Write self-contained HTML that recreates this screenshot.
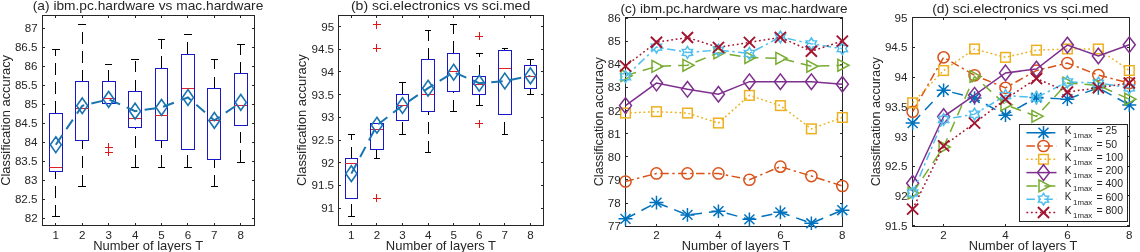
<!DOCTYPE html><html><head><meta charset="utf-8"><style>html,body{margin:0;padding:0;background:#fff;width:1140px;height:252px;overflow:hidden}svg{display:block;will-change:transform}.ce{shape-rendering:crispEdges}text{font-family:"Liberation Sans",sans-serif;fill:#262626}</style></head><body>
<svg width="1140" height="252" viewBox="0 0 1140 252">
<path class="ce" d="M42.5 15.5H254.5V225.5H42.5ZM55.8 225.5V222.9M55.8 15.5V18.1M82.23 225.5V222.9M82.23 15.5V18.1M108.66 225.5V222.9M108.66 15.5V18.1M135.09 225.5V222.9M135.09 15.5V18.1M161.51 225.5V222.9M161.51 15.5V18.1M187.94 225.5V222.9M187.94 15.5V18.1M214.37 225.5V222.9M214.37 15.5V18.1M240.8 225.5V222.9M240.8 15.5V18.1M42.5 218.25H45.1M254.5 218.25H251.9M42.5 199.25H45.1M254.5 199.25H251.9M42.5 180.25H45.1M254.5 180.25H251.9M42.5 161.25H45.1M254.5 161.25H251.9M42.5 142.25H45.1M254.5 142.25H251.9M42.5 123.25H45.1M254.5 123.25H251.9M42.5 104.25H45.1M254.5 104.25H251.9M42.5 85.25H45.1M254.5 85.25H251.9M42.5 66.25H45.1M254.5 66.25H251.9M42.5 47.25H45.1M254.5 47.25H251.9M42.5 28.25H45.1M254.5 28.25H251.9" fill="none" stroke="#262626" stroke-width="1"/>
<g class="ce" fill="none" stroke-width="1"><path d="M55.8 113.06V49.82" stroke="#000" stroke-dasharray="11.8 7.1"/><path d="M55.8 216.43V171.36" stroke="#000" stroke-dasharray="11.8 7.1"/><path d="M52 49.82H59.6M52 216.43H59.6" stroke="#000"/><path d="M49.4 113.06H62.2V171.36H49.4Z" stroke="#1818c8"/><path d="M49.4 167.17H62.2" stroke="#e0202a"/><path d="M82.23 81.44V24.29" stroke="#000" stroke-dasharray="11.8 7.1"/><path d="M82.23 186.83V140.11" stroke="#000" stroke-dasharray="11.8 7.1"/><path d="M78.43 24.29H86.03M78.43 186.83H86.03" stroke="#000"/><path d="M75.83 81.44H88.63V140.11H75.83Z" stroke="#1818c8"/><path d="M75.83 108.49H88.63" stroke="#e0202a"/><path d="M108.66 81.44V64.3" stroke="#000" stroke-dasharray="11.8 7.1"/><path d="M104.86 64.3H112.46M104.86 103.16H112.46" stroke="#000"/><path d="M102.26 81.44H115.06V103.16H102.26Z" stroke="#1818c8"/><path d="M102.26 98.2H115.06" stroke="#e0202a"/><path d="M104.66 147.35H112.66M108.66 143.35V151.35" stroke="#e01818"/><path d="M104.66 152.31H112.66M108.66 148.31V156.31" stroke="#e01818"/><path d="M135.09 91.35V59.34" stroke="#000" stroke-dasharray="11.8 7.1"/><path d="M135.09 167.17V127.16" stroke="#000" stroke-dasharray="11.8 7.1"/><path d="M131.29 59.34H138.89M131.29 167.17H138.89" stroke="#000"/><path d="M128.69 91.35H141.49V127.16H128.69Z" stroke="#1818c8"/><path d="M128.69 118.4H141.49" stroke="#e0202a"/><path d="M161.51 68.1V39.15" stroke="#000" stroke-dasharray="11.8 7.1"/><path d="M161.51 167.17V140.11" stroke="#000" stroke-dasharray="11.8 7.1"/><path d="M157.71 39.15H165.31M157.71 167.17H165.31" stroke="#000"/><path d="M155.11 68.1H167.91V140.11H155.11Z" stroke="#1818c8"/><path d="M155.11 115.97H167.91" stroke="#e0202a"/><path d="M187.94 54.01V34.2" stroke="#000" stroke-dasharray="11.8 7.1"/><path d="M187.94 167.17V149.26" stroke="#000" stroke-dasharray="11.8 7.1"/><path d="M184.14 34.2H191.74M184.14 167.17H191.74" stroke="#000"/><path d="M181.54 54.01H194.34V149.26H181.54Z" stroke="#1818c8"/><path d="M181.54 88.92H194.34" stroke="#e0202a"/><path d="M214.37 88.3V59.34" stroke="#000" stroke-dasharray="11.8 7.1"/><path d="M214.37 186.83V159.16" stroke="#000" stroke-dasharray="11.8 7.1"/><path d="M210.57 59.34H218.17M210.57 186.83H218.17" stroke="#000"/><path d="M207.97 88.3H220.77V159.16H207.97Z" stroke="#1818c8"/><path d="M207.97 120.92H220.77" stroke="#e0202a"/><path d="M240.8 73.44V44.48" stroke="#000" stroke-dasharray="11.8 7.1"/><path d="M240.8 162.21V125.25" stroke="#000" stroke-dasharray="11.8 7.1"/><path d="M237 44.48H244.6M237 162.21H244.6" stroke="#000"/><path d="M234.4 73.44H247.2V125.25H234.4Z" stroke="#1818c8"/><path d="M234.4 105.06H247.2" stroke="#e0202a"/></g>
<polyline points="55.8,144.69 82.23,105.82 108.66,99.35 135.09,111.16 161.51,107.35 187.94,97.44 214.37,120.4 240.8,102.4" fill="none" stroke="#1a74b0" stroke-width="2" stroke-dasharray="11.5 7.3"/>
<path d="M55.8 136.79L61.3 144.69L55.8 152.59L50.3 144.69ZM82.23 97.92L87.73 105.82L82.23 113.72L76.73 105.82ZM108.66 91.45L114.16 99.35L108.66 107.25L103.16 99.35ZM135.09 103.26L140.59 111.16L135.09 119.06L129.59 111.16ZM161.51 99.45L167.01 107.35L161.51 115.25L156.01 107.35ZM187.94 89.54L193.44 97.44L187.94 105.34L182.44 97.44ZM214.37 112.5L219.87 120.4L214.37 128.3L208.87 120.4ZM240.8 94.5L246.3 102.4L240.8 110.3L235.3 102.4Z" fill="none" stroke="#1a74b0" stroke-width="1.6"/>
<path class="ce" d="M338.5 15.5H543.5V225.5H338.5ZM351.35 225.5V222.9M351.35 15.5V18.1M376.93 225.5V222.9M376.93 15.5V18.1M402.51 225.5V222.9M402.51 15.5V18.1M428.09 225.5V222.9M428.09 15.5V18.1M453.66 225.5V222.9M453.66 15.5V18.1M479.24 225.5V222.9M479.24 15.5V18.1M504.82 225.5V222.9M504.82 15.5V18.1M530.4 225.5V222.9M530.4 15.5V18.1M338.5 208.1H341.1M543.5 208.1H540.9M338.5 185.4H341.1M543.5 185.4H540.9M338.5 162.7H341.1M543.5 162.7H540.9M338.5 140H341.1M543.5 140H540.9M338.5 117.3H341.1M543.5 117.3H540.9M338.5 94.6H341.1M543.5 94.6H540.9M338.5 71.9H341.1M543.5 71.9H540.9M338.5 49.2H341.1M543.5 49.2H540.9M338.5 26.5H341.1M543.5 26.5H540.9" fill="none" stroke="#262626" stroke-width="1"/>
<g class="ce" fill="none" stroke-width="1"><path d="M351.35 158.83V134.23" stroke="#000" stroke-dasharray="11.8 7.1"/><path d="M351.35 216.24V198.47" stroke="#000" stroke-dasharray="11.8 7.1"/><path d="M348.05 134.23H354.65M348.05 216.24H354.65" stroke="#000"/><path d="M345.05 158.83H357.65V198.47H345.05Z" stroke="#1818c8"/><path d="M345.05 163.68H357.65" stroke="#e0202a"/><path d="M376.93 158.37V149.26" stroke="#000" stroke-dasharray="11.8 7.1"/><path d="M373.63 123.29H380.23M373.63 158.37H380.23" stroke="#000"/><path d="M370.63 123.29H383.23V149.26H370.63Z" stroke="#1818c8"/><path d="M370.63 129.26H383.23" stroke="#e0202a"/><path d="M372.93 24.88H380.93M376.93 20.88V28.88" stroke="#e01818"/><path d="M372.93 48.12H380.93M376.93 44.12V52.12" stroke="#e01818"/><path d="M372.93 198.47H380.93M376.93 194.47V202.47" stroke="#e01818"/><path d="M402.51 94.59V82.29" stroke="#000" stroke-dasharray="11.8 7.1"/><path d="M402.51 134.23V120.56" stroke="#000" stroke-dasharray="11.8 7.1"/><path d="M399.21 82.29H405.81M399.21 134.23H405.81" stroke="#000"/><path d="M396.21 94.59H408.81V120.56H396.21Z" stroke="#1818c8"/><path d="M396.21 105.52H408.81" stroke="#e0202a"/><path d="M428.09 59.96V30.35" stroke="#000" stroke-dasharray="11.8 7.1"/><path d="M428.09 152.45V111.45" stroke="#000" stroke-dasharray="11.8 7.1"/><path d="M424.79 30.35H431.39M424.79 152.45H431.39" stroke="#000"/><path d="M421.79 59.96H434.39V111.45H421.79Z" stroke="#1818c8"/><path d="M421.79 94.59H434.39" stroke="#e0202a"/><path d="M453.66 53.13V24.43" stroke="#000" stroke-dasharray="11.8 7.1"/><path d="M453.66 111.45V91.4" stroke="#000" stroke-dasharray="11.8 7.1"/><path d="M450.36 24.43H456.96M450.36 111.45H456.96" stroke="#000"/><path d="M447.36 53.13H459.96V91.4H447.36Z" stroke="#1818c8"/><path d="M447.36 71.9H459.96" stroke="#e0202a"/><path d="M479.24 76.37V53.13" stroke="#000" stroke-dasharray="11.8 7.1"/><path d="M479.24 105.52V94.59" stroke="#000" stroke-dasharray="11.8 7.1"/><path d="M475.94 53.13H482.54M475.94 105.52H482.54" stroke="#000"/><path d="M472.94 76.37H485.54V94.59H472.94Z" stroke="#1818c8"/><path d="M472.94 84.02H485.54" stroke="#e0202a"/><path d="M475.24 36.27H483.24M479.24 32.27V40.27" stroke="#e01818"/><path d="M475.24 123.84H483.24M479.24 119.84V127.84" stroke="#e01818"/><path d="M504.82 50.94V48.12" stroke="#000" stroke-dasharray="11.8 7.1"/><path d="M504.82 134.23V114.18" stroke="#000" stroke-dasharray="11.8 7.1"/><path d="M501.52 48.12H508.12M501.52 134.23H508.12" stroke="#000"/><path d="M498.52 50.94H511.12V114.18H498.52Z" stroke="#1818c8"/><path d="M498.52 68.17H511.12" stroke="#e0202a"/><path d="M530.4 65.43V59.96" stroke="#000" stroke-dasharray="11.8 7.1"/><path d="M530.4 94.59V88.21" stroke="#000" stroke-dasharray="11.8 7.1"/><path d="M527.1 59.96H533.7M527.1 94.59H533.7" stroke="#000"/><path d="M524.1 65.43H536.7V88.21H524.1Z" stroke="#1818c8"/><path d="M524.1 76.37H536.7" stroke="#e0202a"/></g>
<polyline points="351.35,173.64 376.93,125.2 402.51,105.52 428.09,88.21 453.66,72.19 479.24,83.2 504.82,81.01 530.4,75.91" fill="none" stroke="#1a74b0" stroke-width="2" stroke-dasharray="11.5 7.3"/>
<path d="M351.35 165.74L356.85 173.64L351.35 181.54L345.85 173.64ZM376.93 117.3L382.43 125.2L376.93 133.1L371.43 125.2ZM402.51 97.62L408.01 105.52L402.51 113.42L397.01 105.52ZM428.09 80.31L433.59 88.21L428.09 96.11L422.59 88.21ZM453.66 64.29L459.16 72.19L453.66 80.09L448.16 72.19ZM479.24 75.3L484.74 83.2L479.24 91.1L473.74 83.2ZM504.82 73.11L510.32 81.01L504.82 88.91L499.32 81.01ZM530.4 68.01L535.9 75.91L530.4 83.81L524.9 75.91Z" fill="none" stroke="#1a74b0" stroke-width="1.6"/>
<path class="ce" d="M625.5 17.5H842.5V226.5H625.5ZM656.48 226.5V223.9M656.48 17.5V20.1M718.44 226.5V223.9M718.44 17.5V20.1M780.39 226.5V223.9M780.39 17.5V20.1M842.35 226.5V223.9M842.35 17.5V20.1M625.5 226.2H628.1M842.5 226.2H839.9M625.5 203.08H628.1M842.5 203.08H839.9M625.5 179.96H628.1M842.5 179.96H839.9M625.5 156.84H628.1M842.5 156.84H839.9M625.5 133.72H628.1M842.5 133.72H839.9M625.5 110.61H628.1M842.5 110.61H839.9M625.5 87.49H628.1M842.5 87.49H839.9M625.5 64.37H628.1M842.5 64.37H839.9M625.5 41.25H628.1M842.5 41.25H839.9M625.5 18.13H628.1M842.5 18.13H839.9" fill="none" stroke="#262626" stroke-width="1"/>
<path class="ce" d="M912.5 17.5H1129.5V226.5H912.5ZM943.6 226.5V223.9M943.6 17.5V20.1M1005.5 226.5V223.9M1005.5 17.5V20.1M1067.4 226.5V223.9M1067.4 17.5V20.1M1129.3 226.5V223.9M1129.3 17.5V20.1M912.5 225.6H915.1M1129.5 225.6H1126.9M912.5 195.9H915.1M1129.5 195.9H1126.9M912.5 166.2H915.1M1129.5 166.2H1126.9M912.5 136.5H915.1M1129.5 136.5H1126.9M912.5 106.8H915.1M1129.5 106.8H1126.9M912.5 77.1H915.1M1129.5 77.1H1126.9M912.5 47.4H915.1M1129.5 47.4H1126.9M912.5 17.7H915.1M1129.5 17.7H1126.9" fill="none" stroke="#262626" stroke-width="1"/>
<polyline points="625.5,218.86 656.48,202.59 687.46,214.91 718.44,211.19 749.41,219.33 780.39,212.35 811.37,223.24 842.35,210.19" fill="none" stroke="#0072BD" stroke-width="1.5" stroke-dasharray="11 7"/>
<path d="M618.5 218.86H632.5M625.5 212.06V225.66M620.5 213.96L630.5 223.76M620.5 223.76L630.5 213.96" stroke="#0072BD" stroke-width="1.5" fill="none"/><path d="M649.48 202.59H663.48M656.48 195.79V209.39M651.48 197.69L661.48 207.49M651.48 207.49L661.48 197.69" stroke="#0072BD" stroke-width="1.5" fill="none"/><path d="M680.46 214.91H694.46M687.46 208.11V221.71M682.46 210.01L692.46 219.81M682.46 219.81L692.46 210.01" stroke="#0072BD" stroke-width="1.5" fill="none"/><path d="M711.44 211.19H725.44M718.44 204.39V217.99M713.44 206.29L723.44 216.09M713.44 216.09L723.44 206.29" stroke="#0072BD" stroke-width="1.5" fill="none"/><path d="M742.41 219.33H756.41M749.41 212.53V226.13M744.41 214.43L754.41 224.23M744.41 224.23L754.41 214.43" stroke="#0072BD" stroke-width="1.5" fill="none"/><path d="M773.39 212.35H787.39M780.39 205.55V219.15M775.39 207.45L785.39 217.25M775.39 217.25L785.39 207.45" stroke="#0072BD" stroke-width="1.5" fill="none"/><path d="M804.37 223.24H818.37M811.37 216.44V230.04M806.37 218.34L816.37 228.14M806.37 228.14L816.37 218.34" stroke="#0072BD" stroke-width="1.5" fill="none"/><path d="M835.35 210.19H849.35M842.35 203.39V216.99M837.35 205.29L847.35 215.09M837.35 215.09L847.35 205.29" stroke="#0072BD" stroke-width="1.5" fill="none"/>
<polyline points="625.5,181.51 656.48,173.47 687.46,173.47 718.44,173.47 749.41,179.75 780.39,166.64 811.37,176.03 842.35,186.02" fill="none" stroke="#D95319" stroke-width="1.5" stroke-dasharray="8.5 3.5 2.4 3.5"/>
<circle cx="625.5" cy="181.51" r="5.6" stroke="#D95319" stroke-width="1.5" fill="none"/><circle cx="656.48" cy="173.47" r="5.6" stroke="#D95319" stroke-width="1.5" fill="none"/><circle cx="687.46" cy="173.47" r="5.6" stroke="#D95319" stroke-width="1.5" fill="none"/><circle cx="718.44" cy="173.47" r="5.6" stroke="#D95319" stroke-width="1.5" fill="none"/><circle cx="749.41" cy="179.75" r="5.6" stroke="#D95319" stroke-width="1.5" fill="none"/><circle cx="780.39" cy="166.64" r="5.6" stroke="#D95319" stroke-width="1.5" fill="none"/><circle cx="811.37" cy="176.03" r="5.6" stroke="#D95319" stroke-width="1.5" fill="none"/><circle cx="842.35" cy="186.02" r="5.6" stroke="#D95319" stroke-width="1.5" fill="none"/>
<polyline points="625.5,113.05 656.48,111.65 687.46,113.05 718.44,123.04 749.41,95.39 780.39,105.61 811.37,128.85 842.35,117.46" fill="none" stroke="#EDB120" stroke-width="1.5" stroke-dasharray="1.8 2.7"/>
<rect x="620.7" y="108.25" width="9.6" height="9.6" stroke="#EDB120" stroke-width="1.5" fill="none"/><rect x="651.68" y="106.85" width="9.6" height="9.6" stroke="#EDB120" stroke-width="1.5" fill="none"/><rect x="682.66" y="108.25" width="9.6" height="9.6" stroke="#EDB120" stroke-width="1.5" fill="none"/><rect x="713.64" y="118.24" width="9.6" height="9.6" stroke="#EDB120" stroke-width="1.5" fill="none"/><rect x="744.61" y="90.59" width="9.6" height="9.6" stroke="#EDB120" stroke-width="1.5" fill="none"/><rect x="775.59" y="100.81" width="9.6" height="9.6" stroke="#EDB120" stroke-width="1.5" fill="none"/><rect x="806.57" y="124.05" width="9.6" height="9.6" stroke="#EDB120" stroke-width="1.5" fill="none"/><rect x="837.55" y="112.66" width="9.6" height="9.6" stroke="#EDB120" stroke-width="1.5" fill="none"/>
<polyline points="625.5,105.61 656.48,83.07 687.46,89.34 718.44,94.22 749.41,81.67 780.39,81.67 811.37,81.67 842.35,84.23" fill="none" stroke="#7E2F8E" stroke-width="1.5"/>
<path d="M625.5 97.81L631.5 105.61L625.5 113.41L619.5 105.61Z" stroke="#7E2F8E" stroke-width="1.5" fill="none"/><path d="M656.48 75.27L662.48 83.07L656.48 90.87L650.48 83.07Z" stroke="#7E2F8E" stroke-width="1.5" fill="none"/><path d="M687.46 81.54L693.46 89.34L687.46 97.14L681.46 89.34Z" stroke="#7E2F8E" stroke-width="1.5" fill="none"/><path d="M718.44 86.42L724.44 94.22L718.44 102.02L712.44 94.22Z" stroke="#7E2F8E" stroke-width="1.5" fill="none"/><path d="M749.41 73.87L755.41 81.67L749.41 89.47L743.41 81.67Z" stroke="#7E2F8E" stroke-width="1.5" fill="none"/><path d="M780.39 73.87L786.39 81.67L780.39 89.47L774.39 81.67Z" stroke="#7E2F8E" stroke-width="1.5" fill="none"/><path d="M811.37 73.87L817.37 81.67L811.37 89.47L805.37 81.67Z" stroke="#7E2F8E" stroke-width="1.5" fill="none"/><path d="M842.35 76.43L848.35 84.23L842.35 92.03L836.35 84.23Z" stroke="#7E2F8E" stroke-width="1.5" fill="none"/>
<polyline points="625.5,75.63 656.48,66.41 687.46,65.24 718.44,52.79 749.41,57.51 780.39,58.34 811.37,66.24 842.35,65.24" fill="none" stroke="#77AC30" stroke-width="1.5" stroke-dasharray="11 7"/>
<path d="M621 69.73L632.1 75.63L621 81.53Z" stroke="#77AC30" stroke-width="1.5" fill="none"/><path d="M651.98 60.51L663.08 66.41L651.98 72.31Z" stroke="#77AC30" stroke-width="1.5" fill="none"/><path d="M682.96 59.34L694.06 65.24L682.96 71.14Z" stroke="#77AC30" stroke-width="1.5" fill="none"/><path d="M713.94 46.89L725.04 52.79L713.94 58.69Z" stroke="#77AC30" stroke-width="1.5" fill="none"/><path d="M744.91 51.61L756.01 57.51L744.91 63.41Z" stroke="#77AC30" stroke-width="1.5" fill="none"/><path d="M775.89 52.44L786.99 58.34L775.89 64.24Z" stroke="#77AC30" stroke-width="1.5" fill="none"/><path d="M806.87 60.34L817.97 66.24L806.87 72.14Z" stroke="#77AC30" stroke-width="1.5" fill="none"/><path d="M837.85 59.34L848.95 65.24L837.85 71.14Z" stroke="#77AC30" stroke-width="1.5" fill="none"/>
<polyline points="625.5,76.79 656.48,47.07 687.46,52.39 718.44,50.07 749.41,53.39 780.39,36.96 811.37,43.79 842.35,48.67" fill="none" stroke="#4DBEEE" stroke-width="1.5" stroke-dasharray="8.5 3.5 2.4 3.5"/>
<polygon points="625.5,70.89 623.73,73.73 620.39,73.84 621.96,76.79 620.39,79.74 623.73,79.86 625.5,82.69 627.27,79.86 630.61,79.74 629.04,76.79 630.61,73.84 627.27,73.73" stroke="#4DBEEE" stroke-width="1.5" fill="none"/><polygon points="656.48,41.17 654.71,44.01 651.37,44.12 652.94,47.07 651.37,50.02 654.71,50.14 656.48,52.97 658.25,50.14 661.59,50.02 660.02,47.07 661.59,44.12 658.25,44.01" stroke="#4DBEEE" stroke-width="1.5" fill="none"/><polygon points="687.46,46.49 685.69,49.33 682.35,49.44 683.92,52.39 682.35,55.34 685.69,55.46 687.46,58.29 689.23,55.46 692.57,55.34 691,52.39 692.57,49.44 689.23,49.33" stroke="#4DBEEE" stroke-width="1.5" fill="none"/><polygon points="718.44,44.17 716.67,47 713.33,47.12 714.9,50.07 713.33,53.02 716.67,53.13 718.44,55.97 720.21,53.13 723.55,53.02 721.98,50.07 723.55,47.12 720.21,47" stroke="#4DBEEE" stroke-width="1.5" fill="none"/><polygon points="749.41,47.49 747.64,50.33 744.3,50.44 745.87,53.39 744.3,56.34 747.64,56.46 749.41,59.29 751.18,56.46 754.52,56.34 752.95,53.39 754.52,50.44 751.18,50.33" stroke="#4DBEEE" stroke-width="1.5" fill="none"/><polygon points="780.39,31.06 778.62,33.9 775.28,34.01 776.85,36.96 775.28,39.91 778.62,40.03 780.39,42.86 782.16,40.03 785.5,39.91 783.93,36.96 785.5,34.01 782.16,33.9" stroke="#4DBEEE" stroke-width="1.5" fill="none"/><polygon points="811.37,37.89 809.6,40.73 806.26,40.84 807.83,43.79 806.26,46.74 809.6,46.86 811.37,49.69 813.14,46.86 816.48,46.74 814.91,43.79 816.48,40.84 813.14,40.73" stroke="#4DBEEE" stroke-width="1.5" fill="none"/><polygon points="842.35,42.77 840.58,45.61 837.24,45.72 838.81,48.67 837.24,51.62 840.58,51.74 842.35,54.57 844.12,51.74 847.46,51.62 845.89,48.67 847.46,45.72 844.12,45.61" stroke="#4DBEEE" stroke-width="1.5" fill="none"/>
<polyline points="625.5,66.08 656.48,42.24 687.46,37.52 718.44,47.35 749.41,42.4 780.39,37.36 811.37,51.23 842.35,41.08" fill="none" stroke="#A2142F" stroke-width="1.5" stroke-dasharray="1.8 2.7"/>
<path d="M619.9 60.58L631.1 71.58M619.9 71.58L631.1 60.58" stroke="#A2142F" stroke-width="1.9" fill="none"/><path d="M650.88 36.74L662.08 47.74M650.88 47.74L662.08 36.74" stroke="#A2142F" stroke-width="1.9" fill="none"/><path d="M681.86 32.02L693.06 43.02M681.86 43.02L693.06 32.02" stroke="#A2142F" stroke-width="1.9" fill="none"/><path d="M712.84 41.85L724.04 52.85M712.84 52.85L724.04 41.85" stroke="#A2142F" stroke-width="1.9" fill="none"/><path d="M743.81 36.9L755.01 47.9M743.81 47.9L755.01 36.9" stroke="#A2142F" stroke-width="1.9" fill="none"/><path d="M774.79 31.86L785.99 42.86M774.79 42.86L785.99 31.86" stroke="#A2142F" stroke-width="1.9" fill="none"/><path d="M805.77 45.73L816.97 56.73M805.77 56.73L816.97 45.73" stroke="#A2142F" stroke-width="1.9" fill="none"/><path d="M836.75 35.58L847.95 46.58M836.75 46.58L847.95 35.58" stroke="#A2142F" stroke-width="1.9" fill="none"/>
<polyline points="912.65,123.09 943.6,90.22 974.55,97.99 1005.5,115.13 1036.45,97.6 1067.4,99.18 1098.35,87.83 1129.3,104.97" fill="none" stroke="#0072BD" stroke-width="1.5" stroke-dasharray="11 7"/>
<path d="M905.65 123.09H919.65M912.65 116.29V129.89M907.65 118.19L917.65 127.99M907.65 127.99L917.65 118.19" stroke="#0072BD" stroke-width="1.5" fill="none"/><path d="M936.6 90.22H950.6M943.6 83.42V97.02M938.6 85.32L948.6 95.12M938.6 95.12L948.6 85.32" stroke="#0072BD" stroke-width="1.5" fill="none"/><path d="M967.55 97.99H981.55M974.55 91.19V104.79M969.55 93.09L979.55 102.89M969.55 102.89L979.55 93.09" stroke="#0072BD" stroke-width="1.5" fill="none"/><path d="M998.5 115.13H1012.5M1005.5 108.33V121.93M1000.5 110.23L1010.5 120.03M1000.5 120.03L1010.5 110.23" stroke="#0072BD" stroke-width="1.5" fill="none"/><path d="M1029.45 97.6H1043.45M1036.45 90.8V104.4M1031.45 92.7L1041.45 102.5M1031.45 102.5L1041.45 92.7" stroke="#0072BD" stroke-width="1.5" fill="none"/><path d="M1060.4 99.18H1074.4M1067.4 92.38V105.98M1062.4 94.28L1072.4 104.08M1062.4 104.08L1072.4 94.28" stroke="#0072BD" stroke-width="1.5" fill="none"/><path d="M1091.35 87.83H1105.35M1098.35 81.03V94.63M1093.35 82.93L1103.35 92.73M1093.35 92.73L1103.35 82.93" stroke="#0072BD" stroke-width="1.5" fill="none"/><path d="M1122.3 104.97H1136.3M1129.3 98.17V111.77M1124.3 100.07L1134.3 109.87M1124.3 109.87L1134.3 100.07" stroke="#0072BD" stroke-width="1.5" fill="none"/>
<polyline points="912.65,111.74 943.6,57.35 974.55,75.28 1005.5,87.83 1036.45,70.5 1067.4,63.04 1098.35,75.08 1129.3,83.05" fill="none" stroke="#D95319" stroke-width="1.5" stroke-dasharray="8.5 3.5 2.4 3.5"/>
<circle cx="912.65" cy="111.74" r="5.6" stroke="#D95319" stroke-width="1.5" fill="none"/><circle cx="943.6" cy="57.35" r="5.6" stroke="#D95319" stroke-width="1.5" fill="none"/><circle cx="974.55" cy="75.28" r="5.6" stroke="#D95319" stroke-width="1.5" fill="none"/><circle cx="1005.5" cy="87.83" r="5.6" stroke="#D95319" stroke-width="1.5" fill="none"/><circle cx="1036.45" cy="70.5" r="5.6" stroke="#D95319" stroke-width="1.5" fill="none"/><circle cx="1067.4" cy="63.04" r="5.6" stroke="#D95319" stroke-width="1.5" fill="none"/><circle cx="1098.35" cy="75.08" r="5.6" stroke="#D95319" stroke-width="1.5" fill="none"/><circle cx="1129.3" cy="83.05" r="5.6" stroke="#D95319" stroke-width="1.5" fill="none"/>
<polyline points="912.65,102.77 943.6,70.5 974.55,48.98 1005.5,57.35 1036.45,50.17 1067.4,48.98 1098.35,48.98 1129.3,70.5" fill="none" stroke="#EDB120" stroke-width="1.5" stroke-dasharray="1.8 2.7"/>
<rect x="907.85" y="97.97" width="9.6" height="9.6" stroke="#EDB120" stroke-width="1.5" fill="none"/><rect x="938.8" y="65.7" width="9.6" height="9.6" stroke="#EDB120" stroke-width="1.5" fill="none"/><rect x="969.75" y="44.18" width="9.6" height="9.6" stroke="#EDB120" stroke-width="1.5" fill="none"/><rect x="1000.7" y="52.55" width="9.6" height="9.6" stroke="#EDB120" stroke-width="1.5" fill="none"/><rect x="1031.65" y="45.37" width="9.6" height="9.6" stroke="#EDB120" stroke-width="1.5" fill="none"/><rect x="1062.6" y="44.18" width="9.6" height="9.6" stroke="#EDB120" stroke-width="1.5" fill="none"/><rect x="1093.55" y="44.18" width="9.6" height="9.6" stroke="#EDB120" stroke-width="1.5" fill="none"/><rect x="1124.5" y="65.7" width="9.6" height="9.6" stroke="#EDB120" stroke-width="1.5" fill="none"/>
<polyline points="912.65,183.27 943.6,116.52 974.55,95.21 1005.5,72.89 1036.45,69.1 1067.4,45.1 1098.35,55.96 1129.3,44.79" fill="none" stroke="#7E2F8E" stroke-width="1.5"/>
<path d="M912.65 175.47L918.65 183.27L912.65 191.07L906.65 183.27Z" stroke="#7E2F8E" stroke-width="1.5" fill="none"/><path d="M943.6 108.72L949.6 116.52L943.6 124.32L937.6 116.52Z" stroke="#7E2F8E" stroke-width="1.5" fill="none"/><path d="M974.55 87.41L980.55 95.21L974.55 103.01L968.55 95.21Z" stroke="#7E2F8E" stroke-width="1.5" fill="none"/><path d="M1005.5 65.09L1011.5 72.89L1005.5 80.69L999.5 72.89Z" stroke="#7E2F8E" stroke-width="1.5" fill="none"/><path d="M1036.45 61.3L1042.45 69.1L1036.45 76.9L1030.45 69.1Z" stroke="#7E2F8E" stroke-width="1.5" fill="none"/><path d="M1067.4 37.3L1073.4 45.1L1067.4 52.9L1061.4 45.1Z" stroke="#7E2F8E" stroke-width="1.5" fill="none"/><path d="M1098.35 48.16L1104.35 55.96L1098.35 63.76L1092.35 55.96Z" stroke="#7E2F8E" stroke-width="1.5" fill="none"/><path d="M1129.3 36.99L1135.3 44.79L1129.3 52.59L1123.3 44.79Z" stroke="#7E2F8E" stroke-width="1.5" fill="none"/>
<polyline points="912.65,193.02 943.6,147 974.55,76.47 1005.5,104.76 1036.45,116.33 1067.4,83.05 1098.35,85.44 1129.3,99.18" fill="none" stroke="#77AC30" stroke-width="1.5" stroke-dasharray="11 7"/>
<path d="M908.15 187.12L919.25 193.02L908.15 198.92Z" stroke="#77AC30" stroke-width="1.5" fill="none"/><path d="M939.1 141.1L950.2 147L939.1 152.9Z" stroke="#77AC30" stroke-width="1.5" fill="none"/><path d="M970.05 70.57L981.15 76.47L970.05 82.37Z" stroke="#77AC30" stroke-width="1.5" fill="none"/><path d="M1001 98.86L1012.1 104.76L1001 110.66Z" stroke="#77AC30" stroke-width="1.5" fill="none"/><path d="M1031.95 110.43L1043.05 116.33L1031.95 122.23Z" stroke="#77AC30" stroke-width="1.5" fill="none"/><path d="M1062.9 77.15L1074 83.05L1062.9 88.95Z" stroke="#77AC30" stroke-width="1.5" fill="none"/><path d="M1093.85 79.54L1104.95 85.44L1093.85 91.34Z" stroke="#77AC30" stroke-width="1.5" fill="none"/><path d="M1124.8 93.28L1135.9 99.18L1124.8 105.08Z" stroke="#77AC30" stroke-width="1.5" fill="none"/>
<polyline points="912.65,193.02 943.6,119.51 974.55,114.13 1005.5,95.6 1036.45,97.6 1067.4,81.85 1098.35,83.05 1129.3,87.83" fill="none" stroke="#4DBEEE" stroke-width="1.5" stroke-dasharray="8.5 3.5 2.4 3.5"/>
<polygon points="912.65,187.12 910.88,189.96 907.54,190.07 909.11,193.02 907.54,195.97 910.88,196.09 912.65,198.92 914.42,196.09 917.76,195.97 916.19,193.02 917.76,190.07 914.42,189.96" stroke="#4DBEEE" stroke-width="1.5" fill="none"/><polygon points="943.6,113.61 941.83,116.44 938.49,116.56 940.06,119.51 938.49,122.46 941.83,122.57 943.6,125.41 945.37,122.57 948.71,122.46 947.14,119.51 948.71,116.56 945.37,116.44" stroke="#4DBEEE" stroke-width="1.5" fill="none"/><polygon points="974.55,108.23 972.78,111.06 969.44,111.18 971.01,114.13 969.44,117.08 972.78,117.19 974.55,120.03 976.32,117.19 979.66,117.08 978.09,114.13 979.66,111.18 976.32,111.06" stroke="#4DBEEE" stroke-width="1.5" fill="none"/><polygon points="1005.5,89.7 1003.73,92.53 1000.39,92.65 1001.96,95.6 1000.39,98.55 1003.73,98.66 1005.5,101.5 1007.27,98.66 1010.61,98.55 1009.04,95.6 1010.61,92.65 1007.27,92.53" stroke="#4DBEEE" stroke-width="1.5" fill="none"/><polygon points="1036.45,91.7 1034.68,94.53 1031.34,94.65 1032.91,97.6 1031.34,100.55 1034.68,100.66 1036.45,103.5 1038.22,100.66 1041.56,100.55 1039.99,97.6 1041.56,94.65 1038.22,94.53" stroke="#4DBEEE" stroke-width="1.5" fill="none"/><polygon points="1067.4,75.95 1065.63,78.79 1062.29,78.9 1063.86,81.85 1062.29,84.8 1065.63,84.92 1067.4,87.75 1069.17,84.92 1072.51,84.8 1070.94,81.85 1072.51,78.9 1069.17,78.79" stroke="#4DBEEE" stroke-width="1.5" fill="none"/><polygon points="1098.35,77.15 1096.58,79.98 1093.24,80.1 1094.81,83.05 1093.24,86 1096.58,86.11 1098.35,88.95 1100.12,86.11 1103.46,86 1101.89,83.05 1103.46,80.1 1100.12,79.98" stroke="#4DBEEE" stroke-width="1.5" fill="none"/><polygon points="1129.3,81.93 1127.53,84.76 1124.19,84.88 1125.76,87.83 1124.19,90.78 1127.53,90.89 1129.3,93.73 1131.07,90.89 1134.41,90.78 1132.84,87.83 1134.41,84.88 1131.07,84.76" stroke="#4DBEEE" stroke-width="1.5" fill="none"/>
<polyline points="912.65,209.16 943.6,145.81 974.55,123.09 1005.5,99.18 1036.45,78.47 1067.4,92.01 1098.35,87.83 1129.3,83.05" fill="none" stroke="#A2142F" stroke-width="1.5" stroke-dasharray="1.8 2.7"/>
<path d="M907.05 203.66L918.25 214.66M907.05 214.66L918.25 203.66" stroke="#A2142F" stroke-width="1.9" fill="none"/><path d="M938 140.31L949.2 151.31M938 151.31L949.2 140.31" stroke="#A2142F" stroke-width="1.9" fill="none"/><path d="M968.95 117.59L980.15 128.59M968.95 128.59L980.15 117.59" stroke="#A2142F" stroke-width="1.9" fill="none"/><path d="M999.9 93.68L1011.1 104.68M999.9 104.68L1011.1 93.68" stroke="#A2142F" stroke-width="1.9" fill="none"/><path d="M1030.85 72.97L1042.05 83.97M1030.85 83.97L1042.05 72.97" stroke="#A2142F" stroke-width="1.9" fill="none"/><path d="M1061.8 86.51L1073 97.51M1061.8 97.51L1073 86.51" stroke="#A2142F" stroke-width="1.9" fill="none"/><path d="M1092.75 82.33L1103.95 93.33M1092.75 93.33L1103.95 82.33" stroke="#A2142F" stroke-width="1.9" fill="none"/><path d="M1123.7 77.55L1134.9 88.55M1123.7 88.55L1134.9 77.55" stroke="#A2142F" stroke-width="1.9" fill="none"/>
<rect class="ce" x="1019.5" y="124.5" width="108" height="97" fill="#fff" stroke="#262626" stroke-width="1"/>
<path d="M1026.4 132.7H1056.5" stroke="#0072BD" stroke-width="1.5" stroke-dasharray="11 7"/>
<path d="M1036.5 132.7H1050.5M1043.5 125.9V139.5M1038.5 127.8L1048.5 137.6M1038.5 137.6L1048.5 127.8" stroke="#0072BD" stroke-width="1.5" fill="none"/>
<text font-size="10" transform="translate(1064.72 133.95)">K</text>
<text font-size="7.8" transform="translate(1073.02 138.10) scale(1.0110 1)">1max</text>
<text font-size="10" transform="translate(1096.47 134.25) scale(1.0500 1)">= 25</text>
<path d="M1026.4 146H1056.5" stroke="#D95319" stroke-width="1.5" stroke-dasharray="8.5 3.5 2.4 3.5"/>
<circle cx="1043.5" cy="146" r="5.6" stroke="#D95319" stroke-width="1.5" fill="none"/>
<text font-size="10" transform="translate(1064.72 147.25)">K</text>
<text font-size="7.8" transform="translate(1073.02 151.40) scale(1.0110 1)">1max</text>
<text font-size="10" transform="translate(1096.47 147.55) scale(1.0500 1)">= 50</text>
<path d="M1026.4 159.3H1056.5" stroke="#EDB120" stroke-width="1.5" stroke-dasharray="1.8 2.7"/>
<rect x="1038.7" y="154.5" width="9.6" height="9.6" stroke="#EDB120" stroke-width="1.5" fill="none"/>
<text font-size="10" transform="translate(1064.72 160.55)">K</text>
<text font-size="7.8" transform="translate(1073.02 164.70) scale(1.0110 1)">1max</text>
<text font-size="10" transform="translate(1096.47 160.85) scale(1.0500 1)">= 100</text>
<path d="M1026.4 172.6H1056.5" stroke="#7E2F8E" stroke-width="1.5"/>
<path d="M1043.5 164.8L1049.5 172.6L1043.5 180.4L1037.5 172.6Z" stroke="#7E2F8E" stroke-width="1.5" fill="none"/>
<text font-size="10" transform="translate(1064.72 173.85)">K</text>
<text font-size="7.8" transform="translate(1073.02 178.00) scale(1.0110 1)">1max</text>
<text font-size="10" transform="translate(1096.47 174.15) scale(1.0500 1)">= 200</text>
<path d="M1026.4 185.9H1056.5" stroke="#77AC30" stroke-width="1.5" stroke-dasharray="11 7"/>
<path d="M1039 180L1050.1 185.9L1039 191.8Z" stroke="#77AC30" stroke-width="1.5" fill="none"/>
<text font-size="10" transform="translate(1064.72 187.15)">K</text>
<text font-size="7.8" transform="translate(1073.02 191.30) scale(1.0110 1)">1max</text>
<text font-size="10" transform="translate(1096.47 187.45) scale(1.0500 1)">= 400</text>
<path d="M1026.4 199.2H1056.5" stroke="#4DBEEE" stroke-width="1.5" stroke-dasharray="8.5 3.5 2.4 3.5"/>
<polygon points="1043.5,193.3 1041.73,196.13 1038.39,196.25 1039.96,199.2 1038.39,202.15 1041.73,202.27 1043.5,205.1 1045.27,202.27 1048.61,202.15 1047.04,199.2 1048.61,196.25 1045.27,196.13" stroke="#4DBEEE" stroke-width="1.5" fill="none"/>
<text font-size="10" transform="translate(1064.72 200.45)">K</text>
<text font-size="7.8" transform="translate(1073.02 204.60) scale(1.0110 1)">1max</text>
<text font-size="10" transform="translate(1096.47 200.75) scale(1.0500 1)">= 600</text>
<path d="M1026.4 212.5H1056.5" stroke="#A2142F" stroke-width="1.5" stroke-dasharray="1.8 2.7"/>
<path d="M1037.9 207L1049.1 218M1037.9 218L1049.1 207" stroke="#A2142F" stroke-width="1.9" fill="none"/>
<text font-size="10" transform="translate(1064.72 213.75)">K</text>
<text font-size="7.8" transform="translate(1073.02 217.90) scale(1.0110 1)">1max</text>
<text font-size="10" transform="translate(1096.47 214.05) scale(1.0500 1)">= 800</text>
<text font-size="11.6" transform="translate(24.75 222.25)">82</text>
<text font-size="11.6" transform="translate(14.88 203.25)">82.5</text>
<text font-size="11.6" transform="translate(24.62 184.25)">83</text>
<text font-size="11.6" transform="translate(14.88 165.25)">83.5</text>
<text font-size="11.6" transform="translate(24.50 146.25)">84</text>
<text font-size="11.6" transform="translate(14.88 127.25)">84.5</text>
<text font-size="11.6" transform="translate(24.62 108.25)">85</text>
<text font-size="11.6" transform="translate(14.88 89.25)">85.5</text>
<text font-size="11.6" transform="translate(24.62 70.25)">86</text>
<text font-size="11.6" transform="translate(14.88 51.25)">86.5</text>
<text font-size="11.6" transform="translate(24.75 32.25)">87</text>
<text font-size="11.6" transform="translate(321.23 212.10)">91</text>
<text font-size="11.6" transform="translate(311.48 189.40)">91.5</text>
<text font-size="11.6" transform="translate(321.35 166.70)">92</text>
<text font-size="11.6" transform="translate(311.48 144.00)">92.5</text>
<text font-size="11.6" transform="translate(321.23 121.30)">93</text>
<text font-size="11.6" transform="translate(311.48 98.60)">93.5</text>
<text font-size="11.6" transform="translate(321.10 75.90)">94</text>
<text font-size="11.6" transform="translate(311.48 53.20)">94.5</text>
<text font-size="11.6" transform="translate(321.23 30.50)">95</text>
<text font-size="11.6" transform="translate(607.95 230.20)">77</text>
<text font-size="11.6" transform="translate(607.83 207.08)">78</text>
<text font-size="11.6" transform="translate(607.83 183.96)">79</text>
<text font-size="11.6" transform="translate(607.83 160.84)">80</text>
<text font-size="11.6" transform="translate(607.83 137.72)">81</text>
<text font-size="11.6" transform="translate(607.95 114.61)">82</text>
<text font-size="11.6" transform="translate(607.83 91.49)">83</text>
<text font-size="11.6" transform="translate(607.70 68.37)">84</text>
<text font-size="11.6" transform="translate(607.83 45.25)">85</text>
<text font-size="11.6" transform="translate(607.83 22.13)">86</text>
<text font-size="11.6" transform="translate(884.88 229.60)">91.5</text>
<text font-size="11.6" transform="translate(894.75 199.90)">92</text>
<text font-size="11.6" transform="translate(884.88 170.20)">92.5</text>
<text font-size="11.6" transform="translate(894.62 140.50)">93</text>
<text font-size="11.6" transform="translate(884.88 110.80)">93.5</text>
<text font-size="11.6" transform="translate(894.50 81.10)">94</text>
<text font-size="11.6" transform="translate(884.88 51.40)">94.5</text>
<text font-size="11.6" transform="translate(894.62 21.70)">95</text>
<text font-size="11.6" transform="translate(52.42 239.30)">1</text>
<text font-size="11.6" transform="translate(78.98 239.30)">2</text>
<text font-size="11.6" transform="translate(105.47 239.30)">3</text>
<text font-size="11.6" transform="translate(131.90 239.30)">4</text>
<text font-size="11.6" transform="translate(158.26 239.30)">5</text>
<text font-size="11.6" transform="translate(184.69 239.30)">6</text>
<text font-size="11.6" transform="translate(211.12 239.30)">7</text>
<text font-size="11.6" transform="translate(237.55 239.30)">8</text>
<text font-size="11.6" transform="translate(347.98 239.30)">1</text>
<text font-size="11.6" transform="translate(373.68 239.30)">2</text>
<text font-size="11.6" transform="translate(399.32 239.30)">3</text>
<text font-size="11.6" transform="translate(424.90 239.30)">4</text>
<text font-size="11.6" transform="translate(450.41 239.30)">5</text>
<text font-size="11.6" transform="translate(475.99 239.30)">6</text>
<text font-size="11.6" transform="translate(501.57 239.30)">7</text>
<text font-size="11.6" transform="translate(527.15 239.30)">8</text>
<text font-size="11.6" transform="translate(653.23 239.30)">2</text>
<text font-size="11.6" transform="translate(715.25 239.30)">4</text>
<text font-size="11.6" transform="translate(777.14 239.30)">6</text>
<text font-size="11.6" transform="translate(839.10 239.30)">8</text>
<text font-size="11.6" transform="translate(940.35 239.30)">2</text>
<text font-size="11.6" transform="translate(1002.31 239.30)">4</text>
<text font-size="11.6" transform="translate(1064.15 239.30)">6</text>
<text font-size="11.6" transform="translate(1126.05 239.30)">8</text>
<text font-size="12.3" transform="translate(93.14 249.65) scale(1.0553 1)">Number of layers T</text>
<text font-size="12.3" transform="translate(385.84 249.65) scale(1.0568 1)">Number of layers T</text>
<text font-size="12.3" transform="translate(681.86 249.65) scale(1.0388 1)">Number of layers T</text>
<text font-size="12.3" transform="translate(968.76 249.65) scale(1.0408 1)">Number of layers T</text>
<text font-size="12.3" transform="translate(9.50 185.85) rotate(-90) scale(1.0476 1)">Classification accuracy</text>
<text font-size="12.3" transform="translate(306.00 186.06) rotate(-90) scale(1.0545 1)">Classification accuracy</text>
<text font-size="12.3" transform="translate(602.50 186.35) rotate(-90) scale(1.0332 1)">Classification accuracy</text>
<text font-size="12.3" transform="translate(879.80 186.35) rotate(-90) scale(1.0332 1)">Classification accuracy</text>
<text font-size="12.5" transform="translate(32.78 10.00) scale(1.0998 1)">(a) ibm.pc.hardware vs mac.hardware</text>
<text font-size="12.5" transform="translate(350.91 10.00) scale(1.1232 1)">(b) sci.electronics vs sci.med</text>
<text font-size="12.5" transform="translate(620.49 12.70) scale(1.0864 1)">(c) ibm.pc.hardware vs mac.hardware</text>
<text font-size="12.5" transform="translate(932.17 12.70) scale(1.1052 1)">(d) sci.electronics vs sci.med</text>
</svg></body></html>
